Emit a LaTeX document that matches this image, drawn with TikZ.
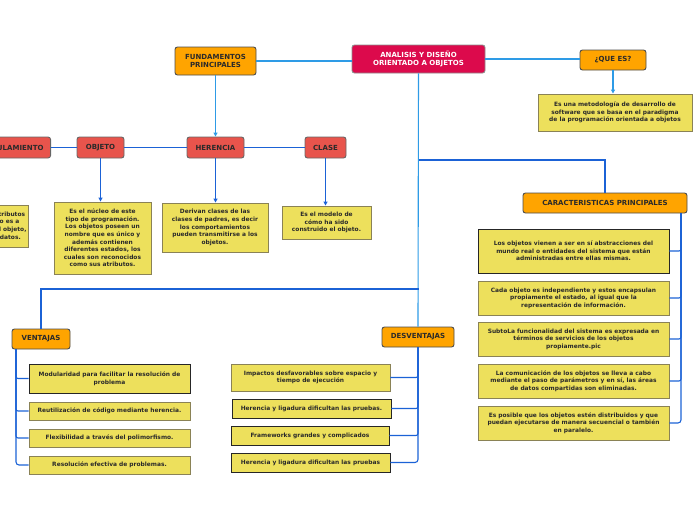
\documentclass[tikz,border=0pt]{standalone}
\usepackage{fontspec}
\setmainfont{DejaVu Sans}
\usetikzlibrary{arrows.meta}
\definecolor{crim}{HTML}{DC0A4C}
\definecolor{orng}{HTML}{FFA400}
\definecolor{redn}{HTML}{E8544C}
\definecolor{yel}{HTML}{EDE05C}
\definecolor{olive}{HTML}{8A8256}
\definecolor{lblue}{HTML}{2E9BE6}
\definecolor{dblue}{HTML}{1B62D6}
\definecolor{txt}{HTML}{2A2A2A}
\tikzset{
  base/.style={rounded corners=2.5pt, line width=0.9pt, inner sep=1pt, align=center, font=\bfseries\fontsize{7}{8.2}\selectfont, text=txt},
  maintitle/.style={base, fill=crim, draw=black!45, text=white},
  orangebox/.style={base, fill=orng, draw=black!70},
  redbox/.style={base, fill=redn, draw=black!60},
  textbox/.style={line width=0.9pt, inner sep=1pt, align=center, fill=yel, draw=olive, text=txt, font=\bfseries\fontsize{5.9}{7.6}\selectfont},
  darkbox/.style={textbox, draw=black!85},
  link/.style={line width=1.1pt, draw=dblue},
  llink/.style={line width=1.1pt, draw=lblue},
  arr/.style={-{Triangle[length=4pt,width=4pt]}},
}
\begin{document}
\begin{tikzpicture}[x=1pt,y=-1pt]
\clip (0,0) rectangle (697,520);
\useasboundingbox (0,0) rectangle (697,520);
% top
\node[maintitle, minimum width=133, minimum height=28] (an) at (418.5,59) {ANALISIS Y DISEÑO\\ORIENTADO A OBJETOS};
\node[orangebox, minimum width=81, minimum height=28] (fund) at (215.5,61) {FUNDAMENTOS\\PRINCIPALES};
\node[orangebox, minimum width=66, minimum height=20] (que) at (613,60) {¿QUE ES?};
\node[textbox, minimum width=154, minimum height=37] (queb) at (615,112.5) {Es una metodología de desarrollo de\\software que se basa en el paradigma\\de la programación orientada a objetos};
% fundamentos
\node[redbox, minimum width=92, minimum height=21, anchor=east] (enc) at (51,147.5) {ENCAPSULAMIENTO};
\node[redbox, minimum width=47, minimum height=21] (obj) at (100.5,147.5) {OBJETO};
\node[redbox, minimum width=57, minimum height=21] (her) at (215.5,147.5) {HERENCIA};
\node[redbox, minimum width=41, minimum height=21] (cla) at (325.5,147.5) {CLASE};
\node[textbox, minimum width=104, minimum height=42, anchor=east] (encb) at (29,226) {Protege los datos y atributos\\del objeto, su acceso es a\\través de métodos del objeto,\\protegiendo así sus datos.};
\node[textbox, minimum width=97, minimum height=72] (objb) at (102.5,238) {Es el núcleo de este\\tipo de programación.\\Los objetos poseen un\\nombre que es único y\\además contienen\\diferentes estados, los\\cuales son reconocidos\\como sus atributos.};
\node[textbox, minimum width=106, minimum height=49] (herb) at (215,227.5) {Derivan clases de las\\clases de padres, es decir\\los comportamientos\\pueden transmitirse a los\\objetos.};
\node[textbox, minimum width=89, minimum height=33] (clab) at (326.5,222.5) {Es el modelo de\\cómo ha sido\\construido el objeto.};
% caracteristicas
\node[orangebox, minimum width=164, minimum height=20] (car) at (605,203) {CARACTERISTICAS PRINCIPALES};
\node[darkbox, minimum width=191, minimum height=44] (c1) at (573.5,251) {Los objetos vienen a ser en sí abstracciones del\\mundo real o entidades del sistema que están\\administradas entre ellas mismas.};
\node[textbox, minimum width=191, minimum height=34] (c2) at (573.5,298) {Cada objeto es independiente y estos encapsulan\\propiamente el estado, al igual que la\\representación de información.};
\node[textbox, minimum width=191, minimum height=34] (c3) at (573.5,339) {SubtoLa funcionalidad del sistema es expresada en\\términos de servicios de los objetos\\propiamente.pic};
\node[textbox, minimum width=191, minimum height=34] (c4) at (573.5,381) {La comunicación de los objetos se lleva a cabo\\mediante el paso de parámetros y en sí, las áreas\\de datos compartidas son eliminadas.};
\node[textbox, minimum width=191, minimum height=34] (c5) at (573.5,423) {Es posible que los objetos estén distribuidos y que\\puedan ejecutarse de manera secuencial o también\\en paralelo.};
% ventajas
\node[orangebox, minimum width=58, minimum height=20] (ven) at (41,339) {VENTAJAS};
\node[darkbox, minimum width=161, minimum height=29] (v1) at (109.5,378.5) {Modularidad para facilitar la resolución de\\problema};
\node[textbox, minimum width=161, minimum height=18] (v2) at (109.5,411) {Reutilización de código mediante herencia.};
\node[textbox, minimum width=161, minimum height=18] (v3) at (109.5,438) {Flexibilidad a través del polimorfismo.};
\node[textbox, minimum width=161, minimum height=18] (v4) at (109.5,465) {Resolución efectiva de problemas.};
% desventajas
\node[orangebox, minimum width=72, minimum height=20] (des) at (418,337) {DESVENTAJAS};
\node[textbox, minimum width=159, minimum height=27] (d1) at (310.5,377.5) {Impactos desfavorables sobre espacio y\\tiempo de ejecución};
\node[darkbox, minimum width=159, minimum height=19] (d2) at (311.5,408.5) {Herencia y ligadura dificultan las pruebas.};
\node[darkbox, minimum width=158, minimum height=19] (d3) at (310,435.5) {Frameworks grandes y complicados};
\node[darkbox, minimum width=159, minimum height=19] (d4) at (310.5,462.5) {Herencia y ligadura dificultan las pruebas};
% connectors top
\draw[llink] (fund.east) -- (fund.east -| an.west);
\draw[llink] (an.east) -- (an.east -| que.west);
\draw[llink, arr] (que.south) -- (queb.north -| que.south);
\draw[llink, arr] (fund.south) -- (her.north);
\draw[link] (enc.east) -- (obj.west);
\draw[link] (obj.east) -- (her.west);
\draw[link] (her.east) -- (cla.west);
\draw[link, arr] (obj.south) -- (objb.north -| obj.south);
\draw[link, arr] (her.south) -- (herb.north -| her.south);
\draw[link, arr] (cla.south) -- (clab.north -| cla.south);
% main spine
\draw[llink] (an.south) -- (des.north);
\coordinate (j1) at (418.5,160);
\coordinate (j2) at (418.5,289);
\draw[link] (j1) -- (j1 -| car.north) -- (car.north);
\draw[link] (j2) -- (j2 -| ven.north) -- (ven.north);
% caracteristicas branches
\coordinate (cv) at (681,213);
\foreach \b in {c1,c2,c3,c4} \draw[link, rounded corners=2pt] (cv) |- (\b.east);
\draw[link, rounded corners=3pt] (cv) |- (c5.east);
% ventajas branches
\coordinate (vv) at (16,349);
\foreach \b in {v1,v2,v3} \draw[link, rounded corners=2pt] (vv) |- (\b.west);
\draw[link, rounded corners=3pt] (vv) |- (v4.west);
% desventajas branches
\coordinate (dv) at (418,347);
\foreach \b in {d1,d2,d3} \draw[link, rounded corners=2pt] (dv) |- (\b.east);
\draw[link, rounded corners=3pt] (dv) |- (d4.east);
\end{tikzpicture}
\end{document}
